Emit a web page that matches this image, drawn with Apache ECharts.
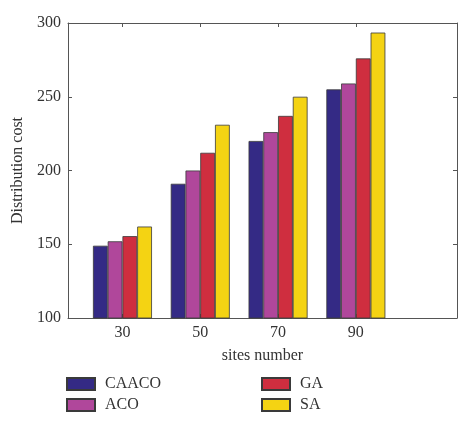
<!DOCTYPE html>
<html><head><meta charset="utf-8">
<script src="https://cdn.jsdelivr.net/npm/echarts@6/dist/echarts.min.js"></script>
<style>html,body{margin:0;padding:0;background:#fff}#c{width:474px;height:428px}</style>
</head><body><div id="c"></div>
<script>
const sites = [30, 50, 70, 90];
const seriesNames = ['CAACO', 'ACO', 'GA', 'SA'];
const caaco = [149, 191, 220, 255];
const aco = [152, 200, 226, 259];
const ga = [155.5, 212, 237, 276];
const sa = [162, 231, 250, 293.5];
const yTicks = [100, 150, 200, 250, 300];
const colors = ['#342a85', '#b0479b', '#cf2e3f', '#f4d313'];
const values = [caaco, aco, ga, sa];

const font = 'Liberation Serif';
const axisColor = '#555';
const fs = 16;
const chart = echarts.init(document.getElementById('c'));
const mkSeries = (name, vals, i) => ({
  name, type: 'bar', xAxisIndex: 0, yAxisIndex: 0,
  data: sites.map((s, k) => [s, vals[k]]),
  barWidth: 14.75, barGap: '0%',
  itemStyle: { color: colors[i], borderColor: '#3a3a3a', borderWidth: 0.8 },
  emphasis: { disabled: true }
});
chart.setOption({
  animation: false,
  textStyle: { fontFamily: font },
  grid: { left: 68, top: 23, right: 17, bottom: 110, outerBoundsMode: 'none', containLabel: false },
  xAxis: [{
    type: 'value', min: 16, max: 116, position: 'bottom',
    name: 'sites number', nameLocation: 'middle', nameGap: 30,
    nameTextStyle: { fontFamily: font, fontSize: fs, color: '#333' },
    axisLine: { show: true, lineStyle: { color: axisColor, width: 1 } },
    axisTick: { show: true, inside: true, length: 4, customValues: sites, lineStyle: { color: axisColor } },
    axisLabel: { customValues: sites, margin: 7, fontFamily: font, fontSize: fs, color: '#333' },
    splitLine: { show: false }
  }, {
    type: 'value', min: 16, max: 116, position: 'top',
    axisLine: { show: true, lineStyle: { color: axisColor, width: 1 } },
    axisTick: { show: true, inside: true, length: 4, customValues: sites, lineStyle: { color: axisColor } },
    axisLabel: { show: false }, splitLine: { show: false }
  }],
  yAxis: [{
    type: 'value', min: 100, max: 300, interval: 50, position: 'left',
    name: 'Distribution cost', nameLocation: 'middle', nameGap: 36,
    nameTextStyle: { fontFamily: font, fontSize: fs, color: '#333' },
    axisLine: { show: true, lineStyle: { color: axisColor, width: 1 } },
    axisTick: { show: true, inside: true, length: 4, lineStyle: { color: axisColor } },
    axisLabel: { margin: 7, fontFamily: font, fontSize: fs, color: '#333' },
    splitLine: { show: false }
  }, {
    type: 'value', min: 100, max: 300, interval: 50, position: 'right',
    axisLine: { show: true, lineStyle: { color: axisColor, width: 1 } },
    axisTick: { show: true, inside: true, length: 4, lineStyle: { color: axisColor } },
    axisLabel: { show: false }, splitLine: { show: false }
  }],
  legend: [{
    orient: 'vertical', left: 66, top: 376, padding: 0, data: ['CAACO', 'ACO'],
    itemWidth: 28, itemHeight: 12, itemGap: 5, icon: 'rect',
    textStyle: { fontFamily: font, fontSize: fs, color: '#333', padding: [0, 0, 0, 5] }
  }, {
    orient: 'vertical', left: 261, top: 376, padding: 0, data: ['GA', 'SA'],
    itemWidth: 28, itemHeight: 12, itemGap: 5, icon: 'rect',
    textStyle: { fontFamily: font, fontSize: fs, color: '#333', padding: [0, 0, 0, 5] }
  }],
  series: seriesNames.map((n, i) => mkSeries(n, values[i], i))
});
</script>
</body></html>
